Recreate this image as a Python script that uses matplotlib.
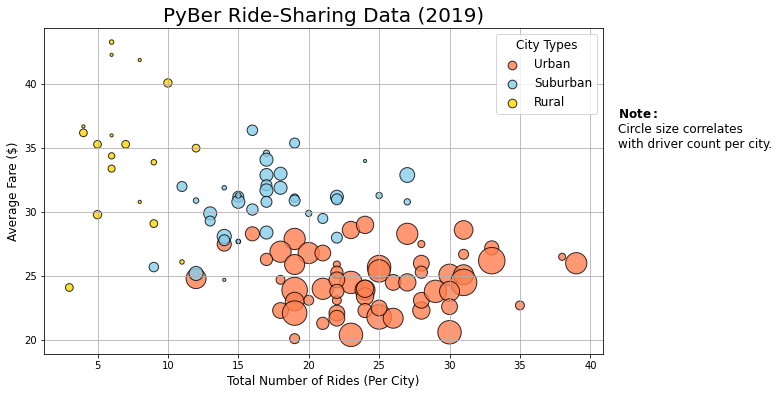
import numpy as np
import matplotlib.pyplot as plt

# urban cities: rides, average fare, drivers
urban_rides = [14, 12, 16, 23, 24, 27, 28, 19, 18, 20, 21, 17, 19, 22, 25, 25, 22, 28, 28, 18,
               19, 21, 23, 22, 26, 27, 24, 24, 22, 20, 19, 18, 19, 22, 22, 21, 24, 25, 26, 23,
               19, 28, 28, 31, 33, 33, 31, 38, 39, 30, 31, 31, 29, 30, 30, 35, 30, 25, 22, 24]
urban_fare = [27.5, 24.8, 28.3, 28.6, 29.0, 28.3, 27.5, 27.9, 26.9, 26.8, 26.8, 26.3, 25.9, 25.9,
              25.7, 25.4, 25.3, 26.0, 25.3, 24.7, 23.9, 24.0, 24.5, 24.7, 24.5, 24.5, 23.9, 23.4,
              23.1, 23.1, 23.0, 22.3, 22.1, 22.1, 21.7, 21.3, 22.3, 21.8, 21.7, 20.4, 20.1, 22.3,
              23.1, 28.6, 27.2, 26.2, 26.7, 26.5, 26.0, 25.1, 25.1, 24.5, 23.8, 23.8, 22.6, 22.7,
              20.6, 22.5, 23.8, 24.0]
urban_drivers = [20, 40, 20, 30, 30, 45, 5, 45, 45, 45, 25, 15, 40, 5, 55, 50, 15, 25, 15, 8,
                 65, 45, 50, 25, 25, 30, 40, 30, 8, 10, 35, 25, 60, 25, 25, 15, 20, 60, 40, 55,
                 10, 30, 25, 35, 20, 70, 10, 5, 45, 45, 40, 70, 50, 40, 25, 8, 55, 25, 20, 30]

# suburban cities
suburban_rides = [11, 14, 12, 15, 15, 13, 13, 14, 14, 15, 9, 12, 14, 16, 19, 17, 17, 24, 27,
                  17, 18, 17, 17, 18, 15, 16, 17, 19, 19, 22, 22, 25, 27, 20, 21, 22, 17, 15]
suburban_fare = [32.0, 31.9, 30.9, 31.2, 30.8, 29.9, 29.3, 28.1, 27.8, 27.7, 25.7, 25.2, 24.7,
                 36.4, 35.4, 34.6, 34.1, 34.0, 32.9, 32.9, 33.0, 32.1, 31.7, 31.9, 31.3, 30.2,
                 30.8, 31.1, 30.9, 31.2, 31.0, 31.3, 30.8, 29.9, 29.5, 28.0, 28.4, 27.7]
suburban_drivers = [10, 2, 3, 12, 17, 17, 10, 20, 12, 2, 9, 20, 1, 11, 10, 4, 17, 1, 22,
                    17, 17, 12, 17, 17, 3, 13, 12, 7, 12, 17, 12, 4, 4, 4, 10, 12, 17, 2]

# rural cities
rural_rides = [6, 6, 8, 10, 4, 4, 5, 6, 7, 12, 6, 9, 6, 8, 5, 9, 11, 3]
rural_fare = [43.3, 42.3, 41.9, 40.1, 36.7, 36.2, 35.3, 36.0, 35.3, 35.0, 34.4, 33.9, 33.4,
              30.8, 29.8, 29.1, 26.1, 24.1]
rural_drivers = [2, 1, 1, 7, 1, 6, 6, 1, 6, 6, 4, 3, 5, 1, 7, 6, 2, 6]

fig = plt.figure(figsize=(780 / 72, 395 / 72), dpi=72)
ax = fig.add_axes([44 / 780, 41 / 395, 559 / 780, 326 / 395])

ax.scatter(urban_rides, urban_fare, s=10 * np.array(urban_drivers), c="coral",
           edgecolor="black", linewidths=1, alpha=0.8, label="Urban")
ax.scatter(suburban_rides, suburban_fare, s=10 * np.array(suburban_drivers), c="skyblue",
           edgecolor="black", linewidths=1, alpha=0.8, label="Suburban")
ax.scatter(rural_rides, rural_fare, s=10 * np.array(rural_drivers), c="gold",
           edgecolor="black", linewidths=1, alpha=0.8, label="Rural")

ax.set_title("PyBer Ride-Sharing Data (2019)", fontsize=20)
ax.set_ylabel("Average Fare ($)", fontsize=12)
ax.set_xlabel("Total Number of Rides (Per City)", fontsize=12)
ax.set_xlim(1.2, 40.9)
ax.set_ylim(18.9, 44.4)
ax.grid(True)

lgnd = ax.legend(fontsize=12, mode="Expanded", scatterpoints=1, loc="upper right",
                 title="City Types")
lgnd.get_title().set_fontsize(12)
for h in lgnd.legend_handles:
    h.set_sizes([75])

ax.text(42, 35, r"$\bf{Note:}$" + "\nCircle size correlates\nwith driver count per city.",
        fontsize=12)

fig.savefig("out.png", dpi=72)
